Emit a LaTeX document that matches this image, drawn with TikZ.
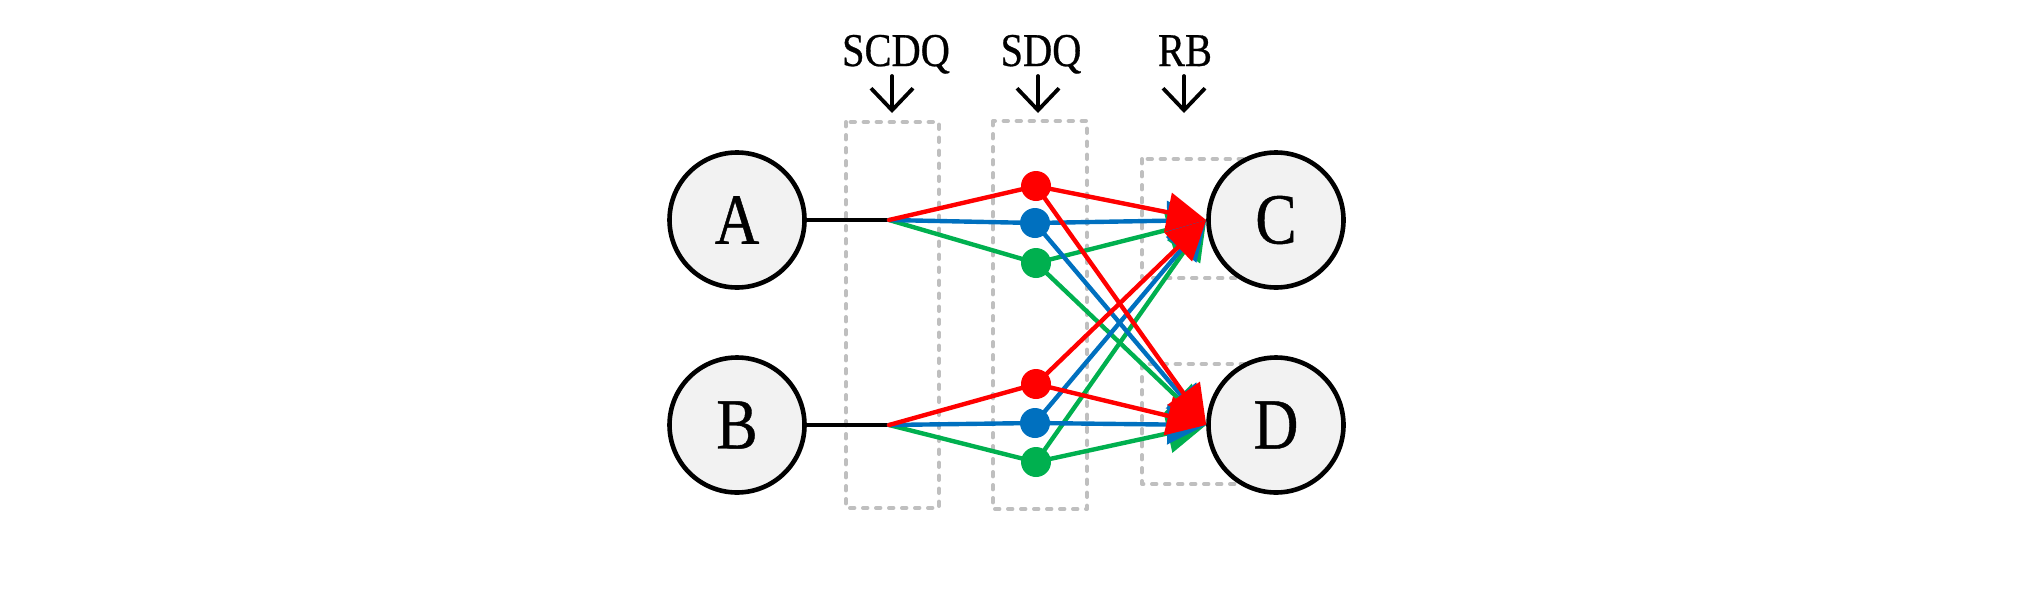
\documentclass[tikz,border=0pt]{standalone}
\usepackage{fontspec}
\setmainfont[FakeStretch=0.86,FakeBold=0.6]{Liberation Serif}
\usepackage{pgf,tikz}
\usetikzlibrary{arrows,arrows.meta}
\definecolor{ffqqqq}{rgb}{1.,0.,0.}
\definecolor{qqxqcq}{rgb}{0.,0.44,0.75}
\definecolor{qqbqvq}{rgb}{0.,0.69,0.31}
\definecolor{bfbfbf}{rgb}{0.75,0.75,0.75}
\definecolor{fsfsfs}{rgb}{0.95,0.95,0.95}
\tikzset{
  vertex/.style={circle,draw=black,fill=fsfsfs,line width=2.3pt,minimum size=67.5pt,inner sep=0pt,font=\fontsize{36}{40}\selectfont},
  qbox/.style={color=bfbfbf,line width=2pt,dash pattern=on 2.2pt off 4.3pt},
  qdot/.style={circle,fill=#1,minimum size=15pt,inner sep=0pt},
  qlabel/.style={anchor=base,inner sep=0pt,font=\fontsize{23.5}{26}\selectfont},
  feed/.style={line width=2.2pt,color=#1},
  route/.style={line width=2.2pt,color=#1,-{Triangle[length=19.5pt,width=19.5pt]}},
  pointer/.style={line width=1.9pt,-{Straight Barb[length=11pt,width=21pt]}}
}
\begin{document}
\begin{tikzpicture}[line cap=round,line join=round,x=0.5pt,y=-0.5pt]
		\useasboundingbox (0,0) rectangle (2028,600);
		\draw [qbox] (846,122) rectangle (939,508);
		\draw [qbox] (993,121) rectangle (1087,509);
		\draw [qbox] (1142,159) rectangle (1275,278);
		\draw [qbox] (1142,364) rectangle (1275,484);
		\node [vertex] (A) at (737,220) {A};
		\node [vertex] (B) at (737,425) {B};
		\node [vertex] (C) at (1276,220) {C};
		\node [vertex] (D) at (1276,425) {D};
		\node [qlabel] (scdq) at (896,66) {SCDQ};
		\node [qlabel] (sdq) at (1041,66) {SDQ};
		\node [qlabel] (rb) at (1185,66) {RB};
		\coordinate (scdqtop) at (892,76);
		\coordinate (scdqbot) at (892,113);
		\coordinate (sdqtop) at (1038,76);
		\coordinate (sdqbot) at (1038,113);
		\coordinate (rbtop) at (1184,76);
		\coordinate (rbbot) at (1184,113);
		\draw [pointer] (scdqtop)-- (scdqbot);
		\draw [pointer] (sdqtop)-- (sdqbot);
		\draw [pointer] (rbtop)-- (rbbot);
		\coordinate (fanA) at (889,220);
		\coordinate (fanB) at (889,425);
		\coordinate (rA) at (1036,186);
		\coordinate (bA) at (1035,223);
		\coordinate (gA) at (1036,263);
		\coordinate (rB) at (1036,384);
		\coordinate (bB) at (1035,423);
		\coordinate (gB) at (1036,462);
		\draw [line width=2.2pt] (A.east)-- (fanA);
		\draw [line width=2.2pt] (B.east)-- (fanB);
		\draw [feed=qqbqvq] (fanA)-- (gA);
		\draw [feed=qqxqcq] (fanA)-- (bA);
		\draw [feed=ffqqqq] (fanA)-- (rA);
		\draw [feed=qqbqvq] (fanB)-- (gB);
		\draw [feed=qqxqcq] (fanB)-- (bB);
		\draw [feed=ffqqqq] (fanB)-- (rB);
		\draw [route=qqbqvq] (gA)-- (C.west);
		\draw [route=qqbqvq] (gA)-- (D.west);
		\draw [route=qqbqvq] (gB)-- (C.west);
		\draw [route=qqbqvq] (gB)-- (D.west);
		\draw [route=qqxqcq] (bA)-- (C.west);
		\draw [route=qqxqcq] (bA)-- (D.west);
		\draw [route=qqxqcq] (bB)-- (C.west);
		\draw [route=qqxqcq] (bB)-- (D.west);
		\draw [route=ffqqqq] (rA)-- (C.west);
		\draw [route=ffqqqq] (rA)-- (D.west);
		\draw [route=ffqqqq] (rB)-- (C.west);
		\draw [route=ffqqqq] (rB)-- (D.west);
		\node [qdot=ffqqqq] (rAdot) at (rA) {};
		\node [qdot=qqxqcq] (bAdot) at (bA) {};
		\node [qdot=qqbqvq] (gAdot) at (gA) {};
		\node [qdot=ffqqqq] (rBdot) at (rB) {};
		\node [qdot=qqxqcq] (bBdot) at (bB) {};
		\node [qdot=qqbqvq] (gBdot) at (gB) {};
\end{tikzpicture}
\end{document}
